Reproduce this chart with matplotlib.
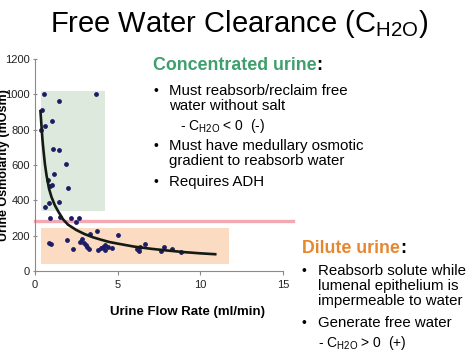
import numpy as np
from matplotlib import pyplot as plt

plt.rcParams['font.family'] = 'Liberation Sans'
plt.rcParams['mathtext.fontset'] = 'custom'
plt.rcParams['mathtext.rm'] = 'Liberation Sans'
plt.rcParams['mathtext.it'] = 'Liberation Sans:italic'
plt.rcParams['mathtext.bf'] = 'Liberation Sans:bold'

# scatter data: urine flow rate (ml/min) vs urine osmolarity (mOsm)
flow = [0.55, 3.7, 1.45, 0.4, 0.6, 1.0, 0.35, 1.1, 1.45, 1.85, 1.15, 0.8, 1.0, 0.88,
        2.0, 1.45, 0.85, 0.62, 0.91, 1.53, 2.16, 2.68, 2.48,
        0.86, 0.95, 1.91, 2.28, 2.72, 2.86, 2.98, 3.08, 3.16, 3.28, 3.32, 3.73,
        3.83, 3.99, 4.13, 4.23, 4.23, 4.43, 4.63, 5.03, 6.14, 6.3, 6.38, 6.63,
        7.65, 7.79, 8.26, 8.86]
osm = [1000, 1000, 960, 910, 820, 850, 800, 690, 685, 605, 550, 515, 487, 483,
       472, 390, 385, 364, 302, 308, 302, 302, 279,
       160, 152, 175, 124, 166, 179, 157, 147, 138, 126, 211, 226,
       119, 128, 138, 119, 147, 138, 128, 206, 123, 115, 138, 153,
       115, 138, 124, 109]

# trend curve
fit_x = [0.33, 0.4, 0.45, 0.5, 0.6, 0.7, 0.85, 1.0, 1.2, 1.4, 1.7, 2.0, 2.5, 3.0,
         3.5, 4.0, 4.5, 5.0, 6.0, 7.0, 8.0, 9.0, 10.0, 10.9]
fit_y = [905, 810, 745, 695, 605, 540, 465, 418, 372, 338, 292, 262, 232, 209,
         191, 177, 164, 155, 138, 126, 116, 107, 100, 95]

fig = plt.figure(figsize=(4.74, 3.63), dpi=100)
ax = fig.add_axes([35/474, 1-271/363, 248/474, 212/363])

ax.fill_between([0.35, 4.25], 340, 1020, color='#dde9dc', lw=0, zorder=0)
ax.fill_between([0.35, 11.75], 38, 245, color='#fbdcc2', lw=0, zorder=0)
ax.plot([0, 15.6], [285, 285], color='#f2a9b2', lw=2.4, clip_on=False, zorder=1)

ax.scatter(flow, osm, s=6, color='#1c1c66', zorder=3)
ax.plot(fit_x, fit_y, color='#141a14', lw=1.9, zorder=4)

ax.set_xlim(0, 15)
ax.set_ylim(0, 1200)
ax.set_xticks([0, 5, 10, 15])
ax.set_yticks(range(0, 1201, 200))
for s in ['top', 'right']:
    ax.spines[s].set_visible(False)
for s in ['left', 'bottom']:
    ax.spines[s].set_color('#8a8a8a')
    ax.spines[s].set_linewidth(0.8)
ax.tick_params(axis='both', colors='#8a8a8a', labelcolor='#222222', labelsize=8, length=3)
ax.tick_params(axis='y', direction='inout', pad=2)
ax.set_xlabel('Urine Flow Rate (ml/min)', fontsize=9.5, fontweight='bold')
ax.xaxis.set_label_coords((187 - 35)/248, -(306 - 271)/212)

fig.text(4/474, 1-165/363, 'Urine Osmolarity (mOsm)', rotation=90, fontsize=9,
         fontweight='bold', ha='center', va='center', zorder=0)
for lab in ax.get_yticklabels():
    lab.set_bbox(dict(facecolor='white', edgecolor='none', pad=0.5))

# title
fig.text(239/474, 1-24/363, r'Free Water Clearance (C$_{\mathrm{H2O}}$)', fontsize=21,
         ha='center', va='center')

# concentrated urine panel
green = '#3e9e6c'
t = fig.text(153/474, 1-70/363, 'Concentrated urine', color=green, fontsize=12.8,
             fontweight='bold', va='baseline')
fig.canvas.draw()
bb = t.get_window_extent()
fig.text(bb.x1/474, 1-70/363, ':', fontsize=12.8, fontweight='bold', va='baseline')

def bullet(x, y, lines, size=10.8, step=15):
    fig.text(x/474, 1-y/363, '•', fontsize=size - 1, va='baseline')
    for i, s in enumerate(lines):
        fig.text((x + 16)/474, 1-(y + i*step)/363, s, fontsize=size, va='baseline')

bullet(153, 95, ['Must reabsorb/reclaim free', 'water without salt'])
fig.text(180/474, 1-130/363, r'- C$_{\mathrm{H2O}}$ < 0  (-)', fontsize=10, va='baseline')
bullet(153, 150, ['Must have medullary osmotic', 'gradient to reabsorb water'])
bullet(153, 186, ['Requires ADH'])

# dilute urine panel
orange = '#e8862e'
t2 = fig.text(302/474, 1-253/363, 'Dilute urine', color=orange, fontsize=12.8,
              fontweight='bold', va='baseline')
fig.canvas.draw()
bb2 = t2.get_window_extent()
fig.text(bb2.x1/474, 1-253/363, ':', fontsize=12.8, fontweight='bold', va='baseline')
bullet(302, 275, ['Reabsorb solute while', 'lumenal epithelium is', 'impermeable to water'])
bullet(302, 327, ['Generate free water'])
fig.text(318/474, 1-347/363, r'- C$_{\mathrm{H2O}}$ > 0  (+)', fontsize=10, va='baseline')

fig.savefig('out.png', dpi=100)
